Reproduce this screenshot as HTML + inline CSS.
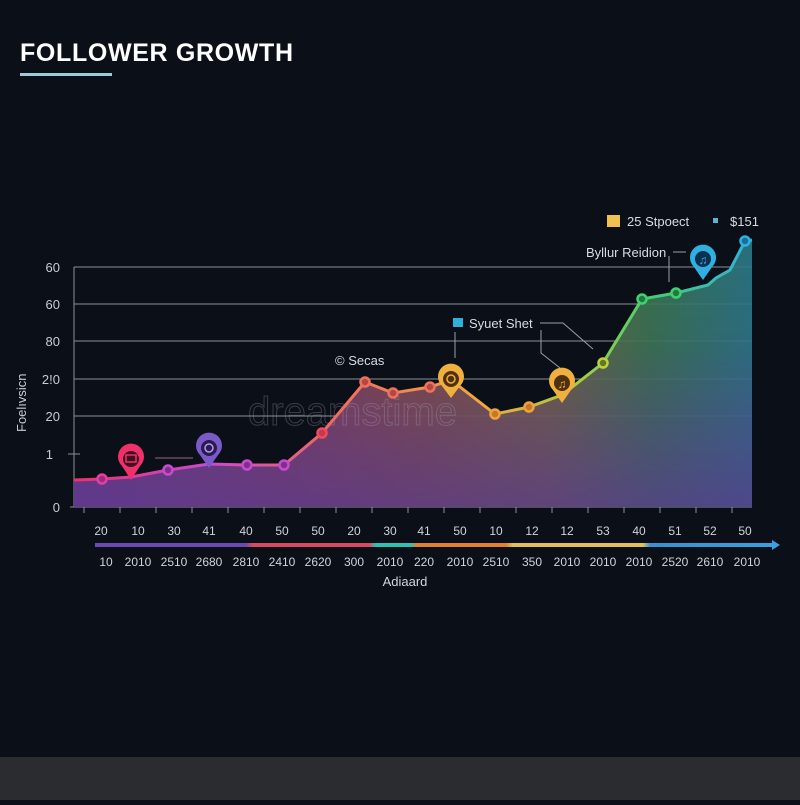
<!DOCTYPE html>
<html><head><meta charset="utf-8"><style>
body{margin:0;width:800px;height:800px;background:#0b0f17;overflow:hidden;font-family:"Liberation Sans",sans-serif}
</style></head><body>
<svg width="800" height="800" xmlns="http://www.w3.org/2000/svg" font-family="Liberation Sans, sans-serif">
<defs>
<linearGradient id="lg" x1="74" y1="0" x2="752" y2="0" gradientUnits="userSpaceOnUse">
<stop offset="0" stop-color="#f0306a"/><stop offset="0.2" stop-color="#c84ad0"/><stop offset="0.38" stop-color="#f06a60"/><stop offset="0.6" stop-color="#f0a840"/><stop offset="0.75" stop-color="#a0d040"/><stop offset="0.85" stop-color="#40d070"/><stop offset="1" stop-color="#30b0e0"/>
</linearGradient>
<linearGradient id="fh" x1="74" y1="0" x2="752" y2="0" gradientUnits="userSpaceOnUse">
<stop offset="0" stop-color="#7a3a8a"/><stop offset="0.3" stop-color="#8a4060"/><stop offset="0.5" stop-color="#8a5040"/><stop offset="0.7" stop-color="#7a6a3a"/><stop offset="0.85" stop-color="#3a7a50"/><stop offset="1" stop-color="#2a7a88"/>
</linearGradient>
<linearGradient id="fv" x1="0" y1="240" x2="0" y2="507" gradientUnits="userSpaceOnUse">
<stop offset="0" stop-color="#5a3a90" stop-opacity="0"/><stop offset="0.4" stop-color="#5a3a90" stop-opacity="0.1"/><stop offset="1" stop-color="#5a3a90" stop-opacity="0.75"/>
</linearGradient>
<linearGradient id="ax" x1="95" y1="0" x2="780" y2="0" gradientUnits="userSpaceOnUse">
<stop offset="0" stop-color="#6a4ab0"/><stop offset="0.22" stop-color="#6a4ab0"/><stop offset="0.23" stop-color="#d84a60"/><stop offset="0.4" stop-color="#d84a60"/><stop offset="0.41" stop-color="#30c0b0"/><stop offset="0.46" stop-color="#30c0b0"/><stop offset="0.47" stop-color="#e08030"/><stop offset="0.6" stop-color="#e08030"/><stop offset="0.61" stop-color="#e0c060"/><stop offset="0.8" stop-color="#e0c060"/><stop offset="0.81" stop-color="#3a90d0"/><stop offset="1" stop-color="#3aa0e0"/>
</linearGradient>
</defs>
<rect x="0" y="757" width="800" height="43" fill="#2a2c30"/>
<text x="20" y="61" fill="#fff" font-size="25" font-weight="bold" textLength="273">FOLLOWER GROWTH</text>
<rect x="20" y="73" width="92" height="3" fill="#9fc8d8"/>
<g stroke="#8a8f98" stroke-width="1">
<line x1="74" y1="267" x2="752" y2="267"/><line x1="74" y1="304" x2="752" y2="304"/><line x1="74" y1="341" x2="752" y2="341"/><line x1="74" y1="379" x2="752" y2="379"/><line x1="74" y1="416" x2="752" y2="416"/>
<line x1="68" y1="454" x2="80" y2="454"/><line x1="70" y1="507" x2="752" y2="507"/><line x1="74" y1="267" x2="74" y2="507"/>
</g>
<g fill="#c8ccd2" font-size="13" text-anchor="end">
<text x="60" y="272">60</text><text x="60" y="309">60</text><text x="60" y="346">80</text><text x="60" y="384">2!0</text><text x="60" y="421">20</text><text x="53" y="459">1</text><text x="60" y="512">0</text>
</g>
<text transform="translate(26,432) rotate(-90)" fill="#c8ccd2" font-size="13">Foelıvsicn</text>
<path d="M74,480 L102,479 L131,477 L168,470 L209,464 L247,465 L284,465 L322,433 L365,382 L393,393 L430,387 L451,380 L495,414 L529,407 L562,395 L603,363 L642,299 L676,293 L708,285 L716,278 L730,270 L745,241 L752,240 L752,507 L74,507Z" fill="url(#fh)" opacity="0.9"/>
<path d="M74,480 L102,479 L131,477 L168,470 L209,464 L247,465 L284,465 L322,433 L365,382 L393,393 L430,387 L451,380 L495,414 L529,407 L562,395 L603,363 L642,299 L676,293 L708,285 L716,278 L730,270 L745,241 L752,240 L752,507 L74,507Z" fill="url(#fv)"/>
<text x="248" y="425" fill="none" stroke="#aab" stroke-opacity="0.3" font-size="40">dreamstime</text>
<path d="M74,480 L102,479 L131,477 L168,470 L209,464 L247,465 L284,465 L322,433 L365,382 L393,393 L430,387 L451,380 L495,414 L529,407 L562,395 L603,363 L642,299 L676,293 L708,285 L716,278 L730,270 L745,241 L752,240" fill="none" stroke="url(#lg)" stroke-width="3"/>
<g stroke-width="2.5">
<circle cx="102" cy="479" r="4.5" fill="#a02a80" stroke="#e040a0"/><circle cx="168" cy="470" r="4.5" fill="#80308a" stroke="#c84ad0"/><circle cx="247" cy="465" r="4.5" fill="#80308a" stroke="#c84ad0"/><circle cx="284" cy="465" r="4.5" fill="#80308a" stroke="#c84ad0"/><circle cx="322" cy="433" r="4.5" fill="#c03a50" stroke="#f04a60"/><circle cx="365" cy="382" r="4.5" fill="#b04a40" stroke="#f07060"/><circle cx="393" cy="393" r="4.5" fill="#b04a40" stroke="#f07060"/><circle cx="430" cy="387" r="4.5" fill="#b04a40" stroke="#f07060"/><circle cx="495" cy="414" r="4.5" fill="#c07a20" stroke="#f0a040"/><circle cx="529" cy="407" r="4.5" fill="#c07a20" stroke="#f0a040"/><circle cx="603" cy="363" r="4.5" fill="#607a20" stroke="#c0d040"/><circle cx="642" cy="299" r="4.5" fill="#207a40" stroke="#40d070"/><circle cx="676" cy="293" r="4.5" fill="#207a40" stroke="#40d070"/><circle cx="745" cy="241" r="4.5" fill="#1a7090" stroke="#30b0e0"/>
</g>
<g>
<path d="M131,480 L122,466 A13,13 0 1 1 140,466Z" fill="#f0306a"/><circle cx="131" cy="459" r="8" fill="#401020"/><rect x="126" y="455" width="10" height="7" fill="none" stroke="#f0306a" stroke-width="1.5"/>
<path d="M209,468 L200,455 A13,13 0 1 1 218,455Z" fill="#7a5ac8"/><circle cx="209" cy="448" r="8" fill="#2a1a50"/><circle cx="209" cy="448" r="4" fill="none" stroke="#b09af0" stroke-width="1.5"/>
<line x1="155" y1="458" x2="193" y2="458" stroke="#a06080" stroke-width="1"/>
<path d="M451,398 L442,386 A13,13 0 1 1 460,386Z" fill="#f0b040"/><circle cx="451" cy="379" r="8" fill="#503010"/><circle cx="451" cy="379" r="4" fill="none" stroke="#f0b040" stroke-width="1.5"/>
<path d="M562,403 L553,390 A13,13 0 1 1 571,390Z" fill="#f0b040"/><circle cx="562" cy="383" r="8" fill="#503010"/><text x="562" y="388" fill="#f0b040" font-size="12" text-anchor="middle">♫</text>
<path d="M703,280 L694,267 A13,13 0 1 1 712,267Z" fill="#30b0e0"/><circle cx="703" cy="259" r="8" fill="#0a3050"/><text x="703" y="264" fill="#30b0e0" font-size="12" text-anchor="middle">♫</text>
</g>
<g fill="none" stroke="#9aa0a8" stroke-width="1">
<line x1="455" y1="332" x2="455" y2="358"/><path d="M540,323 L563,323 L593,349"/><path d="M541,330 L541,353 L560,368"/><path d="M673,252 L686,252"/><line x1="669" y1="256" x2="669" y2="282"/>
</g>
<g fill="#d8dce2" font-size="13">
<text x="335" y="365">© Secas</text>
<rect x="453" y="318" width="10" height="9" fill="#30b0d8"/><text x="469" y="328">Syuet Shet</text>
<text x="586" y="257">Byllur Reidion</text>
<rect x="607" y="215" width="13" height="12" fill="#f0c050"/><text x="627" y="226">25 Stpoect</text>
<rect x="713" y="218" width="5" height="5" fill="#60b0d0"/><text x="730" y="226">$151</text>
</g>
<g stroke="#8a8f98" stroke-width="1">
<line x1="84" y1="507" x2="84" y2="513"/><line x1="120" y1="507" x2="120" y2="513"/><line x1="156" y1="507" x2="156" y2="513"/><line x1="192" y1="507" x2="192" y2="513"/><line x1="228" y1="507" x2="228" y2="513"/><line x1="264" y1="507" x2="264" y2="513"/><line x1="300" y1="507" x2="300" y2="513"/><line x1="336" y1="507" x2="336" y2="513"/><line x1="372" y1="507" x2="372" y2="513"/><line x1="408" y1="507" x2="408" y2="513"/><line x1="444" y1="507" x2="444" y2="513"/><line x1="480" y1="507" x2="480" y2="513"/><line x1="516" y1="507" x2="516" y2="513"/><line x1="552" y1="507" x2="552" y2="513"/><line x1="588" y1="507" x2="588" y2="513"/><line x1="624" y1="507" x2="624" y2="513"/><line x1="660" y1="507" x2="660" y2="513"/><line x1="696" y1="507" x2="696" y2="513"/><line x1="732" y1="507" x2="732" y2="513"/>
</g>
<g fill="#d0d4da" font-size="12" text-anchor="middle">
<text x="101" y="535">20</text><text x="138" y="535">10</text><text x="174" y="535">30</text><text x="209" y="535">41</text><text x="246" y="535">40</text><text x="282" y="535">50</text><text x="318" y="535">50</text><text x="354" y="535">20</text><text x="390" y="535">30</text><text x="424" y="535">41</text><text x="460" y="535">50</text><text x="496" y="535">10</text><text x="532" y="535">12</text><text x="567" y="535">12</text><text x="603" y="535">53</text><text x="639" y="535">40</text><text x="675" y="535">51</text><text x="710" y="535">52</text><text x="745" y="535">50</text>
</g>
<rect x="95" y="543" width="680" height="4" fill="url(#ax)"/>
<path d="M772,540 L780,545 L772,550Z" fill="#3aa0e0"/>
<g fill="#d0d4da" font-size="12" text-anchor="middle">
<text x="106" y="566">10</text><text x="138" y="566">2010</text><text x="174" y="566">2510</text><text x="209" y="566">2680</text><text x="246" y="566">2810</text><text x="282" y="566">2410</text><text x="318" y="566">2620</text><text x="354" y="566">300</text><text x="390" y="566">2010</text><text x="424" y="566">220</text><text x="460" y="566">2010</text><text x="496" y="566">2510</text><text x="532" y="566">350</text><text x="567" y="566">2010</text><text x="603" y="566">2010</text><text x="639" y="566">2010</text><text x="675" y="566">2520</text><text x="710" y="566">2610</text><text x="747" y="566">2010</text>
<text x="405" y="586" font-size="13">Adiaard</text>
</g>
</svg>
</body></html>
